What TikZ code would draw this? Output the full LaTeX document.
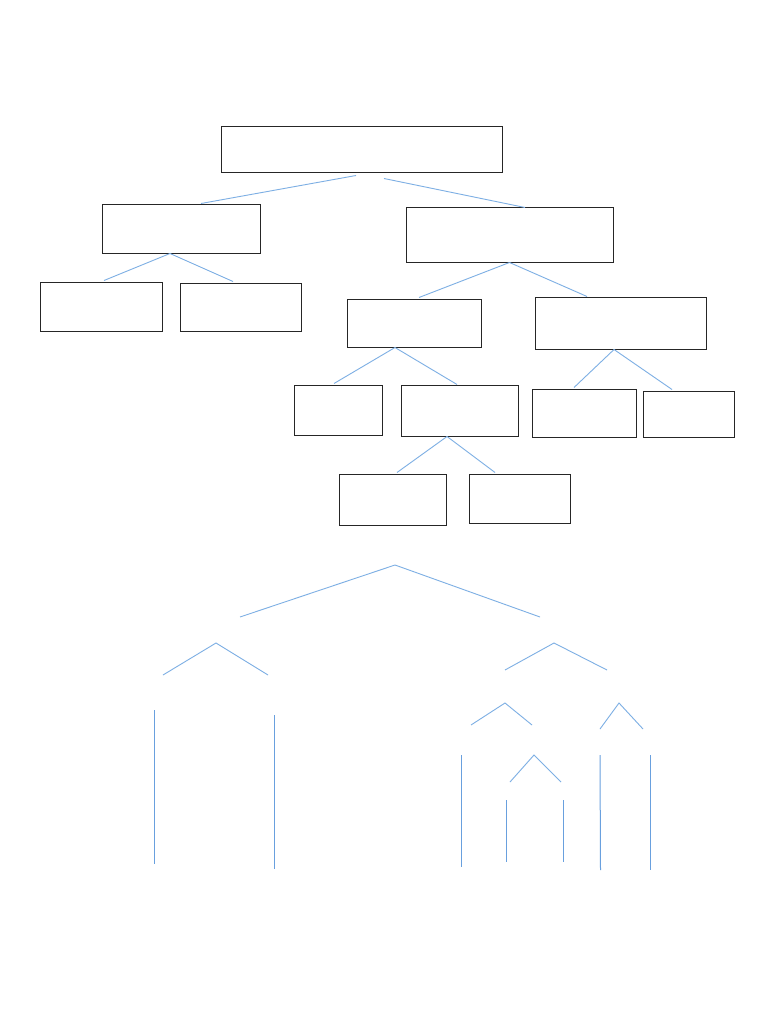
\documentclass[tikz,border=0pt]{standalone}
\usetikzlibrary{calc}
\definecolor{linkblue}{RGB}{125,175,228}
\definecolor{stemblue}{RGB}{105,160,222}
\begin{document}
\begin{tikzpicture}[x=1pt,y=-1pt,
    box/.style 2 args={draw=black!85,line width=1pt,inner sep=0pt,
      minimum width=#1pt,minimum height=#2pt},
    link/.style={draw=linkblue,line width=0.9pt},
    stem/.style={draw=stemblue,line width=1pt}]
  \useasboundingbox[fill=white] (0,0) rectangle (768,1024);

  %% boxes
  \node[box={281}{46}] (root) at (361.5,150) {};
  \node[box={158}{48}] (L)    at (181,229) {};
  \node[box={207}{54}] (R)    at (509.5,235) {};
  \node[box={122}{49}] (LL)   at (101,306.5) {};
  \node[box={121}{48}] (LR)   at (240.5,307) {};
  \node[box={134}{48}] (RL)   at (414,323) {};
  \node[box={171}{52}] (RR)   at (620.5,323) {};
  \node[box={88}{50}]  (RLL)  at (338,410) {};
  \node[box={117}{51}] (RLR)  at (459.5,410.5) {};
  \node[box={104}{48}] (RRL)  at (584,413) {};
  \node[box={91}{46}]  (RRR)  at (688.5,414) {};
  \node[box={107}{51}] (RLRL) at (392.5,499.5) {};
  \node[box={101}{49}] (RLRR) at (519.5,498.5) {};

  %% links between boxes
  \draw[link] ($(root.south)+(-5.5,2)$) -- ($(L.north)+(20,-1)$);
  \draw[link] ($(root.south)+(22.5,5)$) -- ($(R.north)+(15.5,0)$);
  \draw[link] ($(L.south)+(-11,0)$) -- ($(LL.north)+(3,-1)$);
  \draw[link] ($(L.south)+(-11,0)$) -- ($(LR.north)+(-7.5,-1)$);
  \draw[link] (R.south) -- ($(RL.north)+(5,-1)$);
  \draw[link] (R.south) -- ($(RR.north)+(-33.5,0)$);
  \draw[link] ($(RL.south)+(-19,0)$) -- ($(RLL.north)+(-4,-1)$);
  \draw[link] ($(RL.south)+(-19,0)$) -- ($(RLR.north)+(-2.5,0)$);
  \draw[link] ($(RR.south)+(-6.5,0)$) -- ($(RRL.north)+(-10,-1)$);
  \draw[link] ($(RR.south)+(-6.5,0)$) -- ($(RRR.north)+(-16.5,-1)$);
  \draw[link] ($(RLR.south)+(-12.5,0)$) -- ($(RLRL.north)+(4.5,-1)$);
  \draw[link] ($(RLR.south)+(-12.5,0)$) -- ($(RLRR.north)+(-24.5,-1)$);

  %% bare tree below
  \coordinate (top) at (395,565);
  \coordinate (topl) at (240,617);
  \coordinate (topr) at (540,617);
  \draw[link] (topl) -- (top) -- (topr);

  \coordinate (a) at (216,643);
  \draw[link] (163,675) -- (a) -- (268,675);
  \coordinate (b) at (554,643);
  \draw[link] (505,670) -- (b) -- (607,670);
  \coordinate (c) at (505,703);
  \draw[link] (471,725) -- (c) -- (532,725);
  \coordinate (d) at (619,703);
  \draw[link] (600,729) -- (d) -- (643,729);
  \coordinate (e) at (534,755);
  \draw[link] (510,782) -- (e) -- (561,782);

  %% stems
  \draw[stem] (154,710) -- (154,864);
  \draw[stem] (274,715) -- (274,869);
  \draw[stem] (461,755) -- (461,867);
  \draw[stem] (506,800) -- (506,862);
  \draw[stem] (563,800) -- (563,862);
  \draw[stem] (600,755) -- (600.5,870);
  \draw[stem] (650,755) -- (650,870);
\end{tikzpicture}
\end{document}
